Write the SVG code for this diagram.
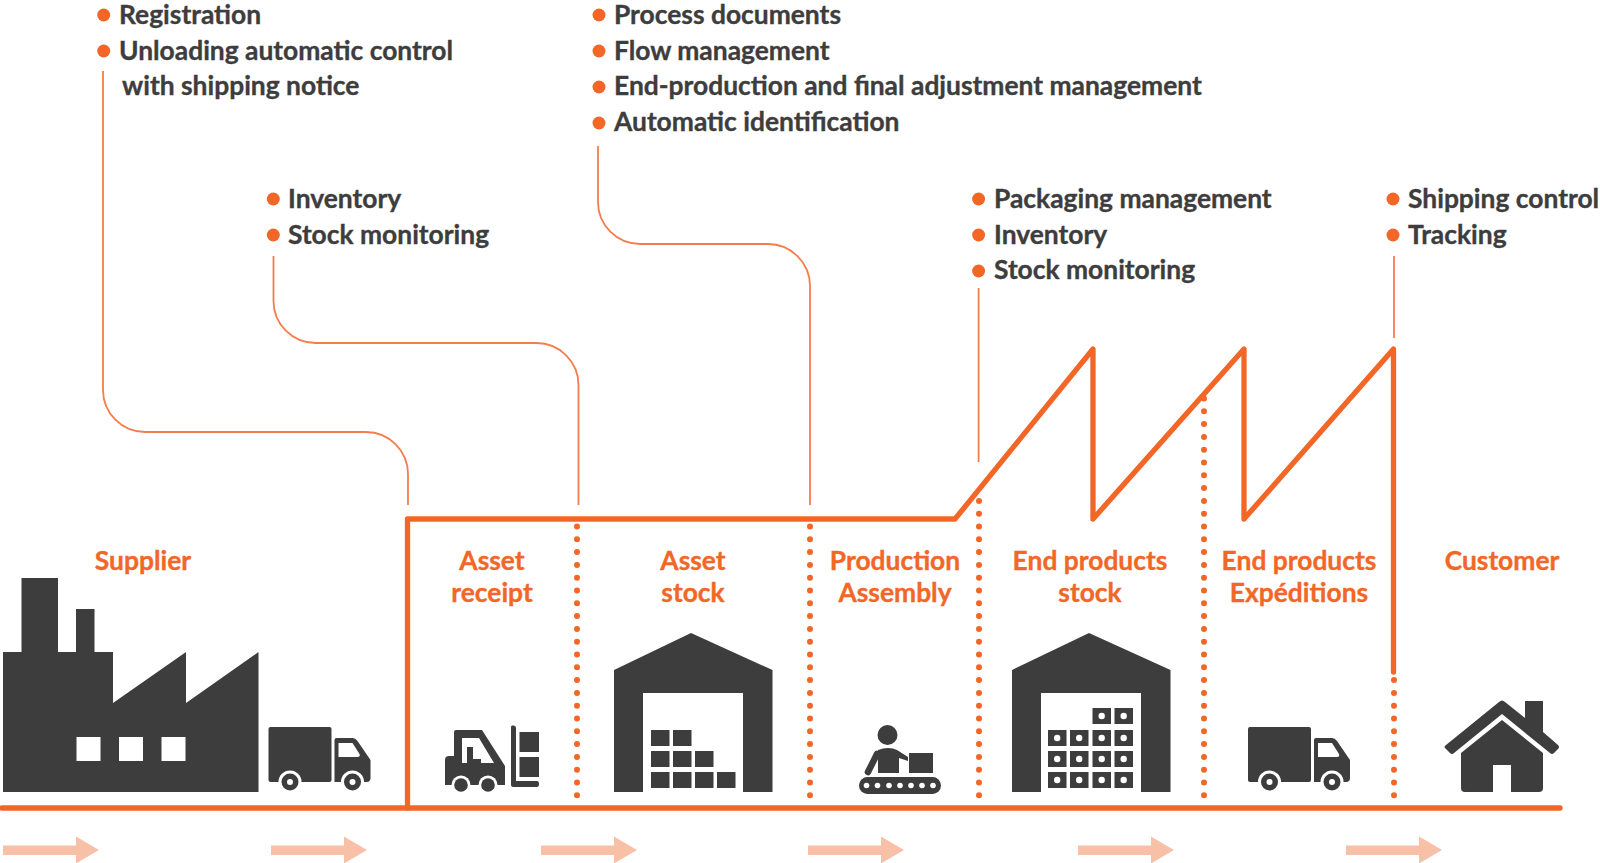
<svg xmlns="http://www.w3.org/2000/svg" width="1600" height="863" viewBox="0 0 1600 863">
<style>
text{font-family:"Lato","Carlito","Open Sans",sans-serif;font-weight:700;stroke-width:.35}
.t{font-size:26.4px;fill:#3d3d3d;stroke:#3d3d3d}
.o{font-size:26.4px;fill:#f26727;stroke:#f26727;text-anchor:middle}
.b{fill:#f26727}
.k{fill:#3d3d3d}
.w{fill:#fff}
.thin{fill:none;stroke:#f47d4e;stroke-width:1.8}
.main{fill:none;stroke:#f26727;stroke-width:5.3}
.dot{fill:none;stroke:#f26727;stroke-width:6;stroke-linecap:round;stroke-dasharray:0 12.8}
.ar{fill:#f9c0a8}
</style>
<defs>
<path id="arrow" d="M0 8.500H73V-0.500L96 13L73 26.500V18H0Z"/>
<g id="truck">
<rect x="0" y="727" width="63" height="55" rx="2" class="k"/>
<path class="k" d="M66 740Q66 738 68 738H84Q87 738 89 741L102 760V778Q102 782 98 782H66Z"/>
<path class="w" d="M70 743H84L91 754Q92 757 89 757H70Z"/>
<circle cx="21.500" cy="782" r="11.500" class="w"/><circle cx="21.500" cy="782" r="8.500" class="k"/><circle cx="21.500" cy="782" r="3" class="w"/>
<circle cx="84" cy="782" r="11.500" class="w"/><circle cx="84" cy="782" r="8.500" class="k"/><circle cx="84" cy="782" r="3" class="w"/>
</g>
<path id="shed" class="k" d="M0 670L77 633L158.500 670V792H129V693H29V792H0Z"/>
</defs>

<g id="connectors">
<path class="thin" d="M103 71V390A42 42 0 0 0 145 432H366A42 42 0 0 1 408 474V505"/>
<path class="thin" d="M273.500 256V301A42 42 0 0 0 315.500 343H536.500A42 42 0 0 1 578.500 385V505"/>
<path class="thin" d="M598 146V202A42 42 0 0 0 640 244H768A42 42 0 0 1 810 286V505"/>
<path class="thin" d="M978.600 288V462"/>
<path class="thin" d="M1394 256V338"/>
<path class="main" d="M407.500 808V519H955L1093 349V519L1244 349V519L1393.500 349V672" stroke-linecap="round" stroke-linejoin="round"/>
<path class="main" d="M2 808H1560" stroke-linecap="round"/>
<path class="dot" d="M577 795.300V520"/>
<path class="dot" d="M810 795.300V520"/>
<path class="dot" d="M979 795.300V500"/>
<path class="dot" d="M1204 795.300V395"/>
<path class="dot" d="M1394 795.300V680"/>
</g>

<g id="flow-arrows">
<use href="#arrow" class="ar" x="3" y="837"/>
<use href="#arrow" class="ar" x="271" y="837"/>
<use href="#arrow" class="ar" x="541" y="837"/>
<use href="#arrow" class="ar" x="808" y="837"/>
<use href="#arrow" class="ar" x="1078" y="837"/>
<use href="#arrow" class="ar" x="1346" y="837"/>
</g>

<g id="notes-1">
<circle class="b" cx="103.700" cy="15" r="6.500"/><circle class="b" cx="103.700" cy="51" r="6.500"/>
<text class="t" x="119" y="24">Registration</text>
<text class="t" x="119" y="60">Unloading automatic control</text>
<text class="t" x="122" y="95">with shipping notice</text>
</g>
<g id="notes-2">
<circle class="b" cx="273.300" cy="199" r="6.500"/><circle class="b" cx="273.300" cy="235" r="6.500"/>
<text class="t" x="288" y="208">Inventory</text>
<text class="t" x="288" y="244">Stock monitoring</text>
</g>
<g id="notes-3">
<circle class="b" cx="599" cy="15" r="6.500"/><circle class="b" cx="599" cy="51" r="6.500"/><circle class="b" cx="599" cy="87" r="6.500"/><circle class="b" cx="599" cy="123" r="6.500"/>
<text class="t" x="614" y="24">Process documents</text>
<text class="t" x="614" y="60">Flow management</text>
<text class="t" x="614" y="95">End-production and final adjustment management</text>
<text class="t" x="614" y="131">Automatic identification</text>
</g>
<g id="notes-4">
<circle class="b" cx="978.600" cy="199" r="6.500"/><circle class="b" cx="978.600" cy="235" r="6.500"/><circle class="b" cx="978.600" cy="271" r="6.500"/>
<text class="t" x="994" y="208">Packaging management</text>
<text class="t" x="994" y="244">Inventory</text>
<text class="t" x="994" y="279">Stock monitoring</text>
</g>
<g id="notes-5">
<circle class="b" cx="1393" cy="199" r="6.500"/><circle class="b" cx="1393" cy="235" r="6.500"/>
<text class="t" x="1408" y="208">Shipping control</text>
<text class="t" x="1408" y="244">Tracking</text>
</g>

<g id="supplier">
<text class="o" x="143" y="570">Supplier</text>
<path class="k" d="M3 652H21.500V578H58V652H76V609H94.500V652H113V703L186 652V703L258.500 652V792H3Z"/>
<rect class="w" x="76.500" y="737" width="24" height="24"/><rect class="w" x="119" y="737" width="24" height="24"/><rect class="w" x="161.500" y="737" width="24" height="24"/>
<use href="#truck" x="268.500"/>
</g>

<g id="asset-receipt">
<text class="o" x="492" y="570">Asset</text><text class="o" x="492" y="602">receipt</text>
<path class="k" d="M456 730H482L505 766V785H445V760Q445 756 449 756H454V732Q454 730 456 730Z"/>
<path class="w" d="M462 738H479L494 763H462Z"/>
<path class="k" d="M467 747H473V759H481V763H467Z"/>
<circle class="w" cx="461" cy="785" r="9.500"/><circle class="k" cx="461" cy="785" r="6.800"/>
<circle class="w" cx="488" cy="785" r="9.500"/><circle class="k" cx="488" cy="785" r="6.800"/>
<path class="k" d="M511 727Q511 725 513 725.500Q516 725 516 728V781H537Q539 781 539 784Q539 787 537 787H513Q511 787 511 785Z"/>
<rect class="k" x="519.500" y="732" width="19.500" height="20"/><rect class="k" x="519.500" y="757" width="19.500" height="20"/>
</g>

<g id="asset-stock">
<text class="o" x="693" y="570">Asset</text><text class="o" x="693" y="602">stock</text>
<use href="#shed" x="614"/>
<g class="k">
<rect x="651" y="730" width="18.500" height="16"/><rect x="673" y="730" width="18.500" height="16"/>
<rect x="651" y="751" width="18.500" height="16"/><rect x="673" y="751" width="18.500" height="16"/><rect x="695" y="751" width="18.500" height="16"/>
<rect x="651" y="772" width="18.500" height="16"/><rect x="673" y="772" width="18.500" height="16"/><rect x="695" y="772" width="18.500" height="16"/><rect x="717" y="772" width="18.500" height="16"/>
</g>
</g>

<g id="production-assembly">
<text class="o" x="895" y="570">Production</text><text class="o" x="895" y="602">Assembly</text>
<circle class="k" cx="887.500" cy="735" r="10"/>
<path class="k" d="M878 773V750Q883 748 888 748Q893 748 897 750L908 757V761L899 758V773Z"/>
<path d="M877 754L868 772" stroke="#3d3d3d" stroke-width="6.500" stroke-linecap="round" fill="none"/>
<rect class="k" x="909" y="753" width="24" height="20"/>
<rect class="k" x="859" y="777" width="82" height="17" rx="8.500"/>
<g class="w">
<circle cx="866.500" cy="785.500" r="2.800"/><circle cx="877.500" cy="785.500" r="2.800"/><circle cx="889" cy="785.500" r="2.800"/><circle cx="900" cy="785.500" r="2.800"/><circle cx="911" cy="785.500" r="2.800"/><circle cx="922" cy="785.500" r="2.800"/><circle cx="933" cy="785.500" r="2.800"/>
</g>
</g>

<g id="end-products-stock">
<text class="o" x="1090" y="570">End products</text><text class="o" x="1090" y="602">stock</text>
<use href="#shed" x="1012"/>
<g class="k">
<rect x="1092.500" y="708" width="18.500" height="16"/><rect x="1114.500" y="708" width="18.500" height="16"/>
<rect x="1048" y="730" width="18.500" height="16"/><rect x="1070" y="730" width="18.500" height="16"/><rect x="1092.500" y="730" width="18.500" height="16"/><rect x="1114.500" y="730" width="18.500" height="16"/>
<rect x="1048" y="751" width="18.500" height="16"/><rect x="1070" y="751" width="18.500" height="16"/><rect x="1092.500" y="751" width="18.500" height="16"/><rect x="1114.500" y="751" width="18.500" height="16"/>
<rect x="1048" y="772" width="18.500" height="16"/><rect x="1070" y="772" width="18.500" height="16"/><rect x="1092.500" y="772" width="18.500" height="16"/><rect x="1114.500" y="772" width="18.500" height="16"/>
</g>
<g class="w">
<circle cx="1101.700" cy="716" r="3.200"/><circle cx="1123.700" cy="716" r="3.200"/>
<circle cx="1057.200" cy="738" r="3.200"/><circle cx="1079.200" cy="738" r="3.200"/><circle cx="1101.700" cy="738" r="3.200"/><circle cx="1123.700" cy="738" r="3.200"/>
<circle cx="1057.200" cy="759" r="3.200"/><circle cx="1079.200" cy="759" r="3.200"/><circle cx="1101.700" cy="759" r="3.200"/><circle cx="1123.700" cy="759" r="3.200"/>
<circle cx="1057.200" cy="780" r="3.200"/><circle cx="1079.200" cy="780" r="3.200"/><circle cx="1101.700" cy="780" r="3.200"/><circle cx="1123.700" cy="780" r="3.200"/>
</g>
</g>

<g id="end-products-expeditions">
<text class="o" x="1299" y="570">End products</text><text class="o" x="1299" y="602">Expéditions</text>
<use href="#truck" x="1248"/>
</g>

<g id="customer">
<text class="o" x="1502" y="570">Customer</text>
<path class="k" d="M1499 702Q1502 699 1505 702L1525 718V701H1543V732L1558 745Q1560 747 1558 749L1554 753Q1552 755 1550 753L1502 714L1454 753Q1452 755 1450 753L1446 749Q1443 747 1446 745Z"/>
<path class="k" d="M1502 720L1543 753V788Q1543 792 1539 792H1511V765H1493V792H1465Q1461 792 1461 788V753Z"/>
</g>
</svg>
